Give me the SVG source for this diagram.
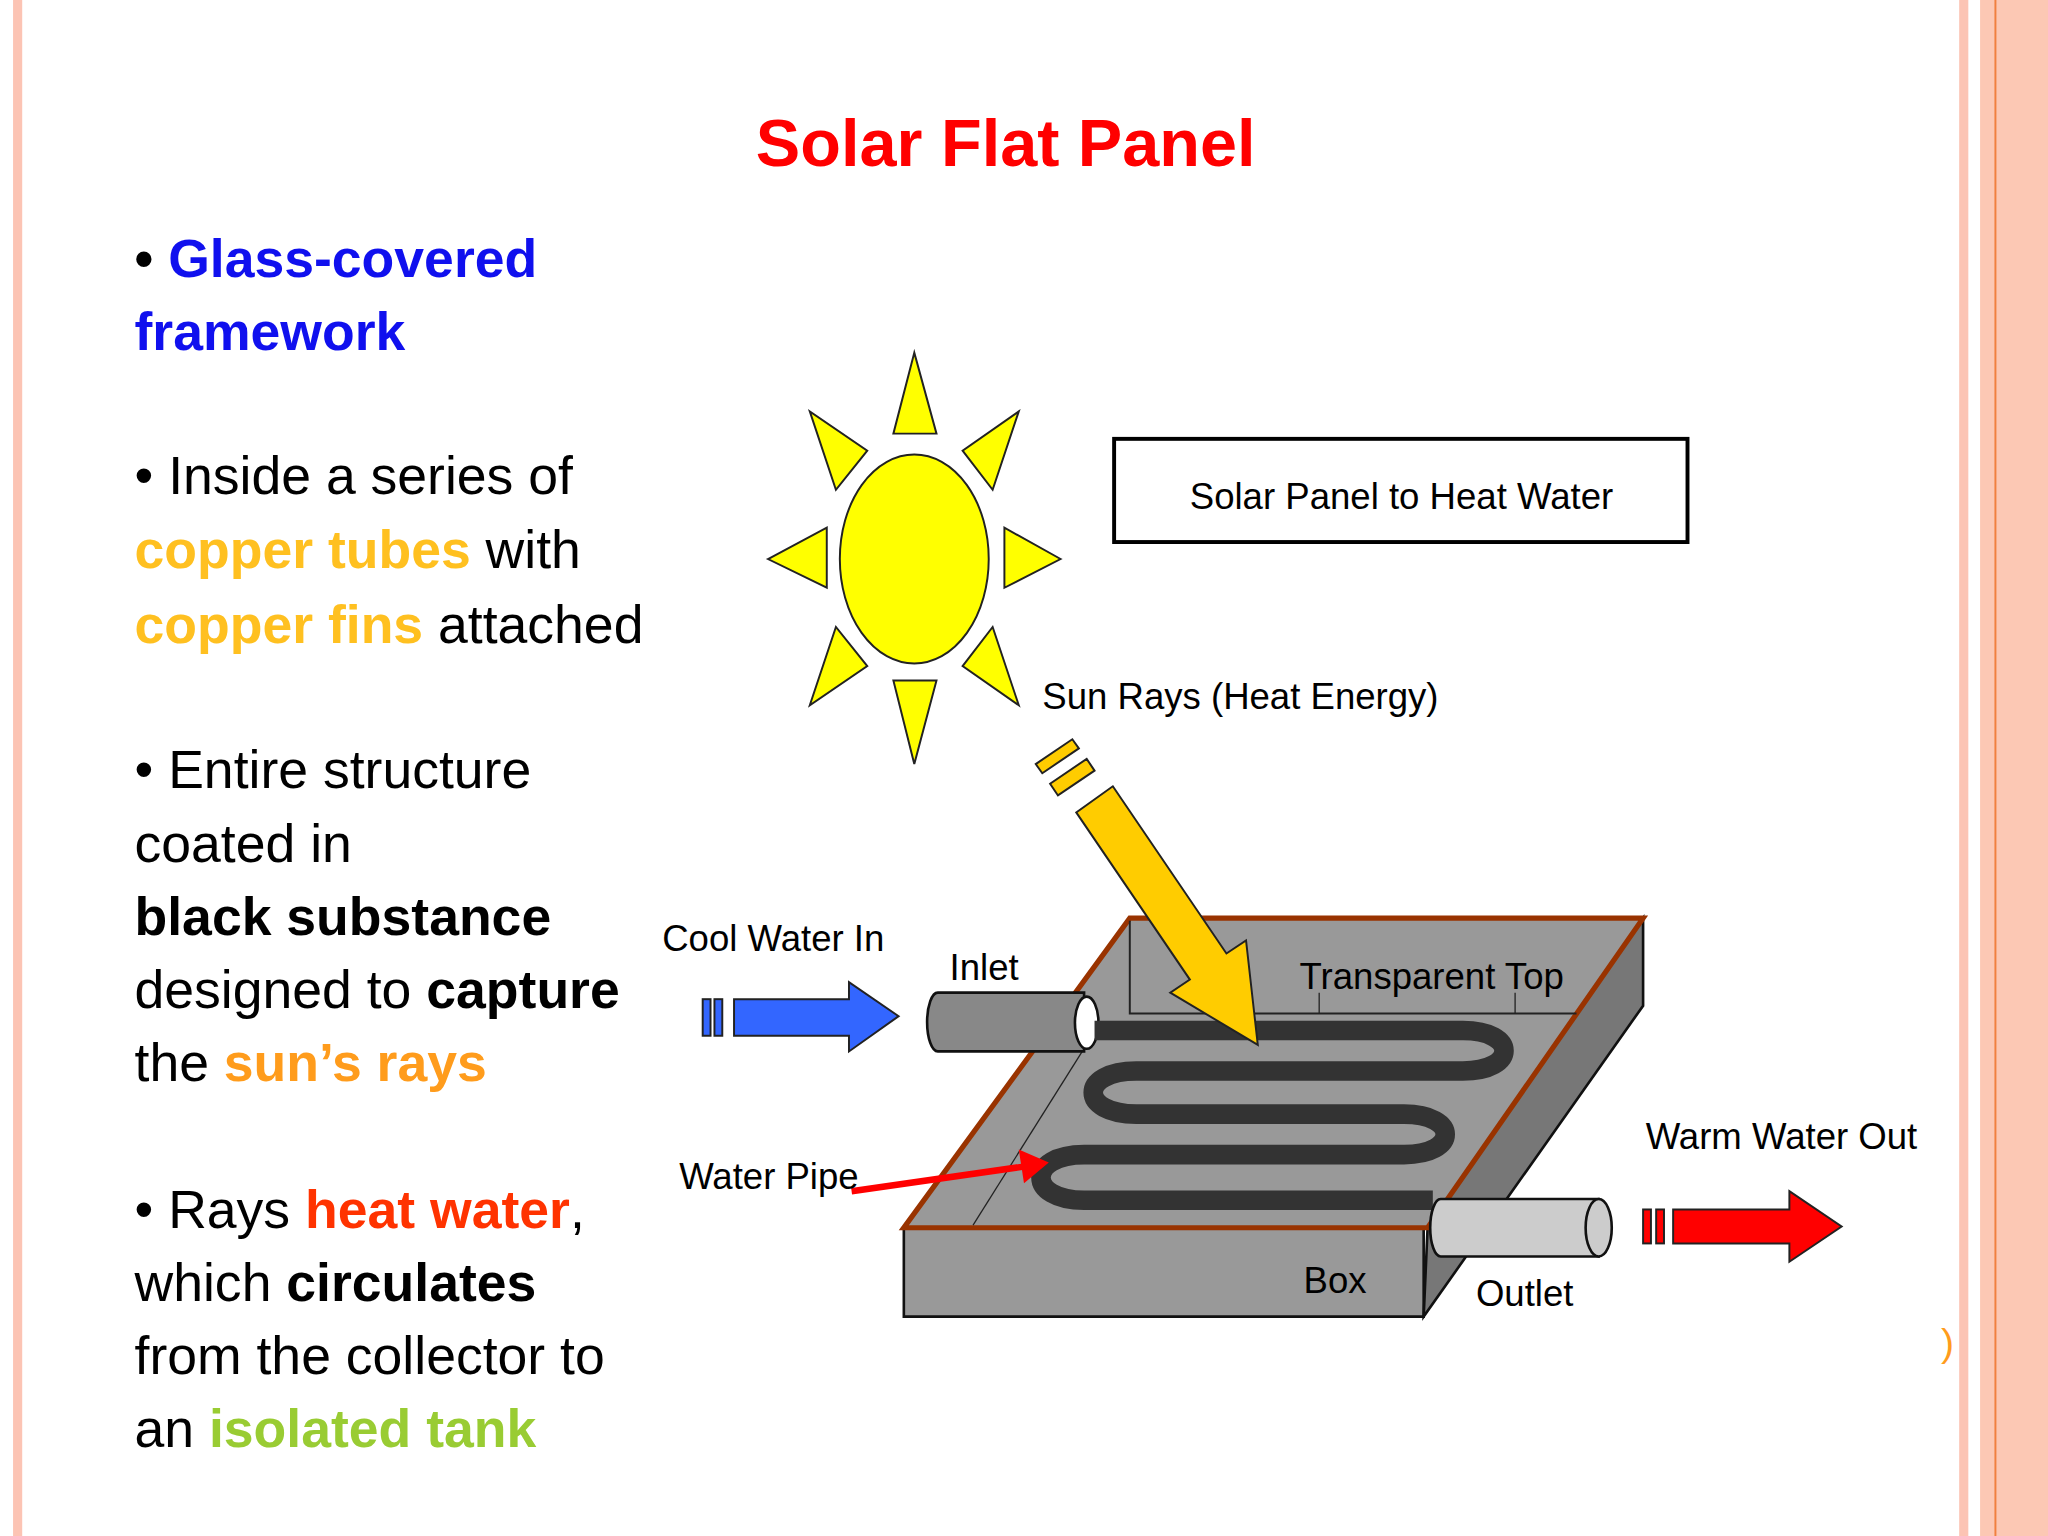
<svg xmlns="http://www.w3.org/2000/svg" width="2048" height="1536" viewBox="0 0 2048 1536">
<style>
.b{font-family:"Liberation Sans",Arial,sans-serif;font-size:41px;fill:#000}
.bd{font-weight:bold}
.l{font-family:"Liberation Sans",Arial,sans-serif;font-size:28px;fill:#000}
.ol{stroke:#222;stroke-width:1.5}
</style>
<rect width="2048" height="1536" fill="#fff"/>
<g transform="scale(1.30612)">
<g id="borders">
<rect x="10" y="0" width="7" height="1176" fill="#fcc4b4"/>
<rect x="1500" y="0" width="7" height="1176" fill="#fcc4b4"/>
<rect x="1516" y="0" width="52" height="1176" fill="#fcc8b4"/>
<rect x="1527" y="0" width="1.5" height="1176" fill="#f08040"/>
</g>
<text x="770" y="127" text-anchor="middle" font-family="Liberation Sans,Arial,sans-serif" font-weight="bold" font-size="51" fill="#ff0000">Solar Flat Panel</text>
<g id="bullets">
<text class="b bd" x="103" y="212"><tspan>• </tspan><tspan style="fill:#1010ee">Glass-covered</tspan></text>
<text class="b bd" x="103" y="268" style="fill:#1010ee">framework</text>
<text class="b" x="103" y="378">• Inside a series of</text>
<text class="b" x="103" y="435"><tspan class="bd" style="fill:#ffc020">copper tubes</tspan> with</text>
<text class="b" x="103" y="492"><tspan class="bd" style="fill:#ffc020">copper fins</tspan> attached</text>
<text class="b" x="103" y="603">• Entire structure</text>
<text class="b" x="103" y="660">coated in</text>
<text class="b bd" x="103" y="716">black substance</text>
<text class="b" x="103" y="772">designed to <tspan class="bd">capture</tspan></text>
<text class="b" x="103" y="828">the <tspan class="bd" style="fill:#ff9c1c">sun’s rays</tspan></text>
<text class="b" x="103" y="940">• Rays <tspan class="bd" style="fill:#ff3300">heat water</tspan>,</text>
<text class="b" x="103" y="996">which <tspan class="bd">circulates</tspan></text>
<text class="b" x="103" y="1052">from the collector to</text>
<text class="b" x="103" y="1108">an <tspan class="bd" style="fill:#99cc33">isolated tank</tspan></text>
</g>
<g id="sun" fill="#ffff00" class="ol">
<polygon points="700,270 684,332 717,332"/>
<polygon points="700,585 684,521 717,521"/>
<polygon points="588,428 633,404 633,450"/>
<polygon points="812,428 769,404 769,450"/>
<polygon points="620,315 640,375 664,345"/>
<polygon points="780,315 737,345 760,375"/>
<polygon points="620,540 640,480 664,510"/>
<polygon points="780,540 737,510 760,480"/>
<ellipse cx="700" cy="428" rx="57" ry="80"/>
</g>
<g id="title-box">
<rect x="853" y="336" width="439" height="79" fill="#fff" stroke="#000" stroke-width="3"/>
<text class="l" x="1073" y="390" text-anchor="middle" font-size="32">Solar Panel to Heat Water</text>
</g>
<text class="l" x="798" y="543">Sun Rays (Heat Energy)</text>
<g id="box">
<polygon points="692,940 1090,940 1090,1008 692,1008" fill="#999" stroke="#111" stroke-width="2"/>
<polygon points="1258,703 1258,770 1090,1008 1093,940" fill="#777" stroke="#111" stroke-width="2"/>
<polygon points="865,703 1258,703 1093,940 692,940" fill="#999" stroke="#993300" stroke-width="4"/>
<polyline points="865,705 865,776 1207,776" fill="none" stroke="#222" stroke-width="1.5"/>
<line x1="838" y1="790" x2="745" y2="938" stroke="#222" stroke-width="1"/>
<line x1="1010" y1="760" x2="1010" y2="776" stroke="#222" stroke-width="1"/>
<line x1="1160" y1="760" x2="1160" y2="776" stroke="#222" stroke-width="1"/>
</g>
<g id="inlet">
<path d="M718,760 L830,760 L830,805 L718,805 A8,22 0 0 1 718,760 Z" fill="#888" stroke="#111" stroke-width="2"/>
<ellipse cx="832" cy="783" rx="9" ry="20" fill="#fff" stroke="#111" stroke-width="2"/>
</g>
<path id="tube" d="M838,789 L1120,789 C1162,789 1162,820 1120,820 L870,820 C826,820 826,853 870,853 L1075,853 C1117,853 1117,884 1075,884 L830,884 C786,884 786,919 830,919 L1097,919" fill="none" stroke="#333" stroke-width="15"/>
<g id="outlet">
<path d="M1103,918 L1224,918 L1224,962 L1103,962 A8,22 0 0 1 1103,918 Z" fill="#ccc" stroke="#111" stroke-width="2"/>
<ellipse cx="1224" cy="940" rx="10" ry="22" fill="#ccc" stroke="#111" stroke-width="2"/>
</g>
<g id="connectors" class="ol">
<g fill="#ffcc00">
<polygon points="852,602 939,730 954,720 963,800 896,760 911,750 824,622"/>
<polygon points="838,590 832,581 804,600 810,609"/>
<polygon points="826,573 821,566 793,585 798,592"/>
</g>
<g fill="#3366ff">
<rect x="538" y="765" width="6" height="28"/>
<rect x="547" y="765" width="6" height="28"/>
<polygon points="562,765 650,765 650,752 688,778 650,805 650,793 562,793"/>
</g>
<g fill="#ff0000">
<rect x="1258" y="926" width="6" height="26"/>
<rect x="1268" y="926" width="6" height="26"/>
<polygon points="1281,926 1370,926 1370,912 1410,939 1370,966 1370,952 1281,952"/>
</g>
<line x1="652" y1="912" x2="785" y2="893" stroke="#ff0000" stroke-width="5"/>
<polygon points="803,890 780,880 784,906" fill="#ff0000" stroke="none"/>
</g>
<g id="labels">
<text class="l" x="995" y="757">Transparent Top</text>
<text class="l" x="727" y="750">Inlet</text>
<text class="l" x="507" y="728">Cool Water In</text>
<text class="l" x="520" y="910">Water Pipe</text>
<text class="l" x="998" y="990">Box</text>
<text class="l" x="1130" y="1000">Outlet</text>
<text class="l" x="1260" y="880">Warm Water Out</text>
</g>
<text x="1486" y="1038" font-family="Liberation Sans,sans-serif" font-size="30" fill="#ff9c1c">)</text>
</g>
</svg>
